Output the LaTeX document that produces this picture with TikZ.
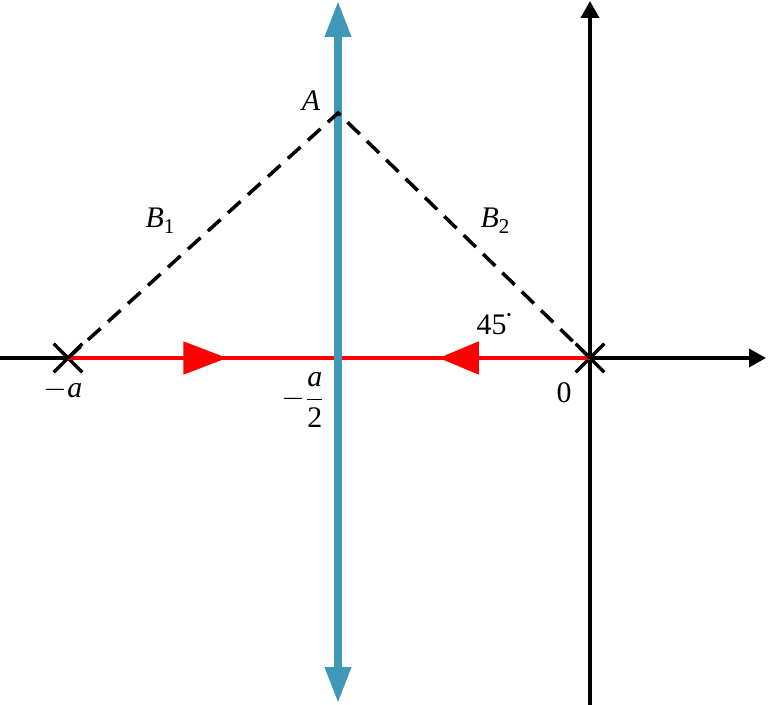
\documentclass[tikz,border=0pt]{standalone}
\usepackage{fontspec}
\setmainfont{Liberation Serif}
\usetikzlibrary{arrows.meta,decorations.markings,shapes.misc}
\definecolor{rootblue}{RGB}{64,152,184}
\newcommand{\subidx}[1]{\raisebox{-0.45ex}{\fontsize{12}{14}\selectfont #1}}
\begin{document}
\begin{tikzpicture}[x=0.02cm,y=-0.02cm,font=\fontsize{17}{20}\selectfont]
        \tikzstyle{axis} = [line width=2pt,-{Triangle[length=0.34cm,width=0.36cm]}]
        \tikzstyle{pole} = [draw,cross out,line width=2pt,minimum size=0.5cm,inner sep=0pt]
        \tikzstyle{locus} = [red,line width=2.8pt]
        \tikzstyle{asym} = [black,dashed,line width=2pt,dash pattern=on 0.34cm off 0.2cm]
        \useasboundingbox (0,0) rectangle (768,705);

        \coordinate (L) at (0,358);
        \coordinate (R) at (766,358);
        \coordinate (T) at (590,1);
        \coordinate (D) at (590,705);
        \coordinate (M) at (338,358);
        \coordinate (Bt) at (338,1);
        \coordinate (Bb) at (338,703);
        \node[pole] (P1) at (68,358){};
        \node[pole] (P0) at (590,358){};
        \coordinate (A) at (338,113);


        \draw[axis] (L) -- (R);
        \draw[axis] (D) -- (T);


        \draw[locus,postaction={decorate},decoration={markings,mark=at position 0.59 with {\arrow{Triangle[length=0.88cm,width=0.64cm]}}}] (P1.center) -- (M);
        \draw[locus,postaction={decorate},decoration={markings,mark=at position 0.6 with {\arrow{Triangle[length=0.8cm,width=0.64cm]}}}] (P0.center) -- (M);


        \draw[rootblue,line width=4pt,{Triangle[length=0.72cm,width=0.5cm]}-{Triangle[length=0.72cm,width=0.5cm]}] (Bt) -- (Bb);


        \draw[asym] (P1.center) -- (A) -- (P0.center);


        \node (lA) at (311,101) {\textit{A}};
        \node (B1) at (160,221) {\textit{B}\subidx{1}};
        \node (B2) at (495,221) {\textit{B}\subidx{2}};
        \node (ang) at (494,324) {45\raisebox{1.1ex}{\scalebox{0.45}{\textbullet}}};
        \node (lp1) at (63,390) {$-$\textit{a}};
        \node (lm) at (303,400) {$-\displaystyle\frac{\mbox{\textit{a}}}{\mbox{2}}$};
        \node (lp0) at (564,393) {0};
    \end{tikzpicture}
\end{document}
